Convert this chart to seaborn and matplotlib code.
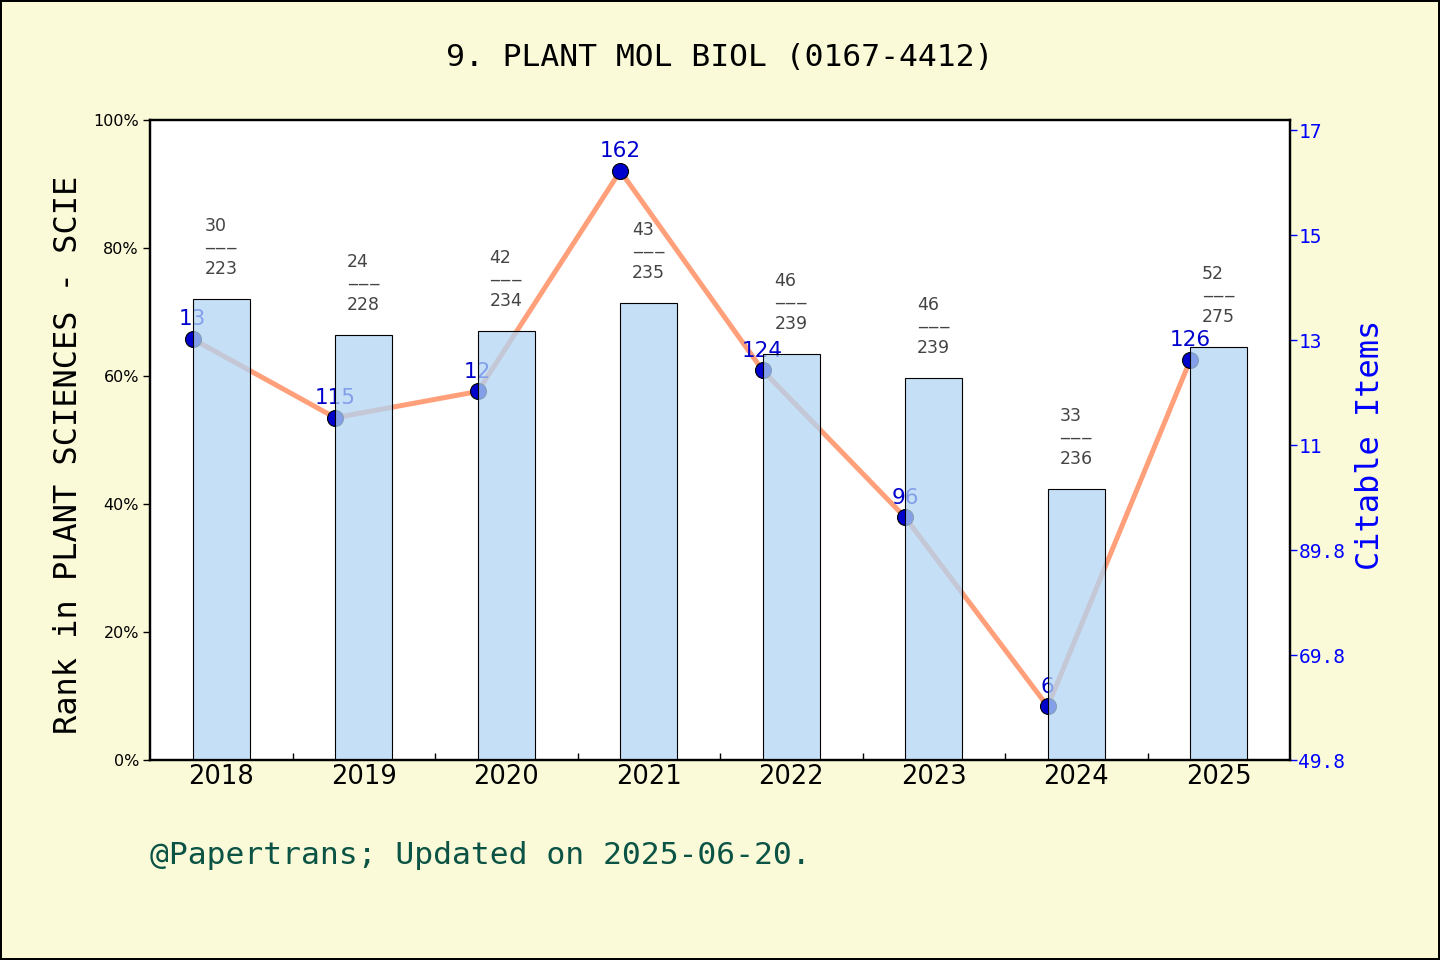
import numpy as np
import pandas as pd
import matplotlib
matplotlib.use("Agg")
import matplotlib.pyplot as plt
import seaborn as sns
from matplotlib.colors import to_rgba
from matplotlib.ticker import PercentFormatter, FixedLocator

# data
years = ["2018", "2019", "2020", "2021", "2022", "2023", "2024", "2025"]
rank_pct = [72.0, 66.4, 67.0, 71.4, 63.4, 59.7, 42.3, 64.5]
rank_pos = [30, 24, 42, 43, 46, 46, 33, 52]
cat_size = [223, 228, 234, 235, 239, 239, 236, 275]
citable = [130, 115, 120, 162, 124, 96, 60, 126]
right_ticklabels = ["49.8", "69.8", "89.8", "11", "13", "15", "17"]

mono = "DejaVu Sans Mono"
bg = "#fafad8"

sns.set_theme(style="ticks")
plt.rcParams["font.family"] = ["DejaVu Sans"]
plt.rcParams["text.color"] = "black"
plt.rcParams["axes.labelcolor"] = "black"
plt.rcParams["xtick.color"] = "black"
plt.rcParams["ytick.color"] = "black"

df = pd.DataFrame({"year": years, "rank": rank_pct})

fig = plt.figure(figsize=(14.4, 9.6), dpi=100, facecolor=bg,
                 edgecolor="black", linewidth=1.5)
ax = fig.add_axes([150 / 1440, 1 - 760 / 960, 1140 / 1440, 640 / 960])
ax2 = ax.twinx()

# line goes on the twin axes, drawn underneath the bars
ax.set_zorder(ax2.get_zorder() + 1)
ax.patch.set_visible(False)
ax2.patch.set_visible(True)
ax2.patch.set_facecolor("white")

bar_w = 0.4
xline = np.arange(len(years)) - bar_w / 2
sns.lineplot(x=xline, y=citable, ax=ax2, color="#ffa07a", lw=3.6,
             marker="o", markersize=11.5, markerfacecolor="#0000cd",
             markeredgecolor="black", markeredgewidth=0.8)
for x, v in zip(xline, citable):
    ax2.annotate(str(v).rstrip("0"), (x, v), xytext=(0, 7), textcoords="offset points",
                 ha="center", va="bottom", color="#0000cd", fontsize=15.5)

lo, hi = min(citable) * 0.83, max(citable) * 1.06
ax2.set_ylim(lo, hi)
ax2.yaxis.set_major_locator(FixedLocator(lo + 20 * np.arange(len(right_ticklabels))))
ax2.set_yticklabels(right_ticklabels, fontfamily=mono, fontsize=14, color="blue")
ax2.tick_params(axis="y", colors="blue", length=5, width=1, pad=1)
ax2.set_ylabel("Citable Items", fontfamily=mono, fontsize=23, color="blue")
ax2.yaxis.set_label_coords(1.057, 0.492)

sns.barplot(data=df, x="year", y="rank", ax=ax, color="#b1d5f4",
            saturation=1, width=bar_w, edgecolor="black", linewidth=0.8)
for i, p in enumerate(ax.patches):
    # translucent fill, solid black outline
    p.set_facecolor(to_rgba("#b1d5f4", 0.75))
    p.set_edgecolor("black")
    ax.annotate(f"{rank_pos[i]}\n\u2012\u2012\u2012\n{cat_size[i]}",
                (p.get_x() + p.get_width() / 2, p.get_height()),
                xytext=(0, 15), textcoords="offset points", ha="center",
                va="bottom", multialignment="left", color="#444444",
                fontsize=12.5, linespacing=1.25)

ax.set_xlim(-0.5, len(years) - 0.5)
ax.set_ylim(0, 100)
ax.set_yticks(range(0, 101, 20))
ax.yaxis.set_major_formatter(PercentFormatter(decimals=0))
ax.tick_params(axis="y", labelsize=11.5, length=5, width=1, pad=3, colors="black")
ax.tick_params(axis="x", labelsize=18.5, length=0, pad=3, labelcolor="black")
ax.set_xticks(np.arange(len(years) - 1) + 0.5, minor=True)
ax.tick_params(axis="x", which="minor", direction="in", length=5, width=1, color="black")
ax.set_xlabel("")
ax.set_ylabel("Rank in PLANT SCIENCES - SCIE", fontfamily=mono, fontsize=23, color="black")
ax.yaxis.set_label_coords(-0.058, 0.477)

for a in (ax, ax2):
    for s in a.spines.values():
        s.set_visible(True)
        s.set_color("black")
        s.set_linewidth(1.6)

fig.text(0.5, 1 - 57 / 960, "9. PLANT MOL BIOL (0167-4412)", ha="center",
         va="center", fontfamily=mono, fontsize=22.6, color="black")
fig.text(150 / 1440, 1 - 855 / 960, "@Papertrans; Updated on 2025-06-20.",
         ha="left", va="center", fontfamily=mono, fontsize=22.6, color="#0b5345")

fig.savefig("out.png", dpi=100, facecolor=bg, edgecolor="black")
